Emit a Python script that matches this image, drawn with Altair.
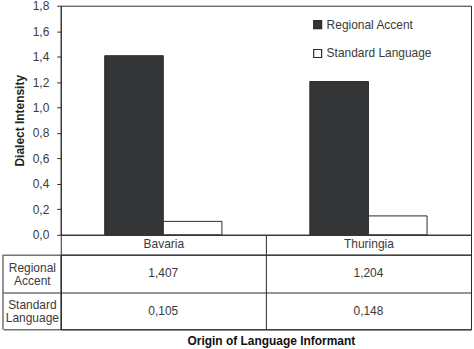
import altair as alt
import pandas as pd

regions = ["Bavaria", "Thuringia"]
series = ["Regional Accent", "Standard Language"]
regional_accent = [1.407, 1.204]
standard_language = [0.105, 0.148]
y_ticks = [0.0, 0.2, 0.4, 0.6, 0.8, 1.0, 1.2, 1.4, 1.6, 1.8]

rows = []
for i, r in enumerate(regions):
    rows.append({"Region": r, "Series": series[0], "Value": regional_accent[i]})
    rows.append({"Region": r, "Series": series[1], "Value": standard_language[i]})
df = pd.DataFrame(rows)

DARK = "#2a2a2a"
TXT = "#3a3a3a"

x_scale = alt.Scale(domain=regions, paddingInner=0, paddingOuter=0)

bars = alt.Chart(df).mark_bar(stroke=DARK, strokeWidth=1).encode(
    x=alt.X("Region:N", sort=regions, scale=x_scale,
            axis=alt.Axis(title=None, tickBand="extent", tickSize=20, labelPadding=-16,
                          domainColor=DARK, tickColor=DARK, labelAngle=0,
                          labelFontSize=12, labelColor=TXT, labelBaseline="top")),
    xOffset=alt.XOffset("Series:N", sort=series,
                        scale=alt.Scale(domain=series, paddingInner=0, paddingOuter=0.75)),
    y=alt.Y("Value:Q", scale=alt.Scale(domain=[0, 1.8], nice=False),
            axis=alt.Axis(title="Dialect Intensity", values=y_ticks, format=".1f",
                          labelExpr="replace(datum.label, '.', ',')",
                          tickSize=4, labelPadding=8, domainColor=DARK, tickColor=DARK,
                          labelFontSize=12, labelColor=TXT, grid=False,
                          titleFontSize=12, titleFontWeight="bold", titleColor="#222",
                          titlePadding=6)),
    color=alt.Color("Series:N", sort=series,
                    scale=alt.Scale(domain=series, range=["#333536", "#ffffff"]),
                    legend=alt.Legend(title=None, orient="none", legendX=252, legendY=13,
                                      symbolType="square", symbolSize=64,
                                      symbolStrokeColor=DARK, symbolStrokeWidth=1.2,
                                      labelFontSize=12, labelColor=TXT, rowPadding=15,
                                      labelOffset=3)),
).properties(width=412, height=230)

table_text = alt.Chart(df).transform_calculate(
    Label="replace(format(datum.Value, '.3f'), '.', ',')"
).mark_text(fontSize=12, color=TXT).encode(
    x=alt.X("Region:N", sort=regions, scale=x_scale,
            axis=alt.Axis(labels=False, ticks=False, domain=False, grid=True,
                          tickBand="extent", gridColor=DARK, gridOpacity=1,
                          title="Origin of Language Informant", titleFontWeight="bold",
                          titleFontSize=12, titlePadding=6, titleColor="#111",
                          titleX=211, minExtent=0)),
    y=alt.Y("Series:N", sort=series,
            scale=alt.Scale(domain=series, paddingInner=0, paddingOuter=0),
            axis=alt.Axis(title=None, tickBand="extent", tickSize=58, labelAlign="center",
                          labelPadding=-29, labelExpr="split(datum.label, ' ')",
                          labelLineHeight=13, labelOffset=-6, domainColor=DARK, tickColor=DARK,
                          grid=True, gridColor=DARK, gridOpacity=1,
                          labelFontSize=12, labelColor=TXT)),
    text="Label:N",
)

left_border = alt.Chart(pd.DataFrame({"k": [0]})).mark_rule(color=DARK).encode(
    x=alt.value(-58), y=alt.value(0), y2=alt.value(75)
)

table = alt.layer(table_text, left_border).properties(width=412, height=75)

chart = alt.vconcat(bars, table, spacing=20, bounds="flush").properties(
    padding={"left": 2, "top": -2, "right": 2, "bottom": 0}
).configure(font="Liberation Sans").configure_view(stroke=DARK, strokeWidth=1)

chart.save("out.html", embed_options={"renderer": "svg", "actions": False})
